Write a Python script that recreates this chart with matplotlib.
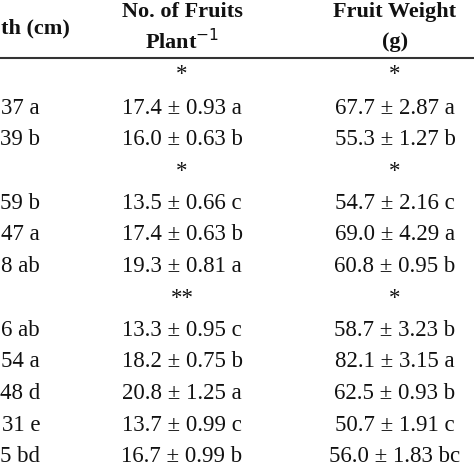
import matplotlib
matplotlib.use("Agg")
import matplotlib.pyplot as plt

header_left = "th (cm)"
header_mid = ["No. of Fruits", "Plant$^{-1}$"]
header_right = ["Fruit Weight", "(g)"]
left_col = ["", "37 a", "39 b", "", "59 b", "47 a", "8 ab", "", "6 ab", "54 a", "48 d", "31 e", "5 bd"]
mid_col = ["*", "17.4 ± 0.93 a", "16.0 ± 0.63 b", "*", "13.5 ± 0.66 c", "17.4 ± 0.63 b", "19.3 ± 0.81 a",
           "**", "13.3 ± 0.95 c", "18.2 ± 0.75 b", "20.8 ± 1.25 a", "13.7 ± 0.99 c", "16.7 ± 0.99 b"]
right_col = ["*", "67.7 ± 2.87 a", "55.3 ± 1.27 b", "*", "54.7 ± 2.16 c", "69.0 ± 4.29 a", "60.8 ± 0.95 b",
             "*", "58.7 ± 3.23 b", "82.1 ± 3.15 a", "62.5 ± 0.93 b", "50.7 ± 1.91 c", "56.0 ± 1.83 bc"]

W = H = 474
fig = plt.figure(figsize=(4.74, 4.74), dpi=100)
fam = ["Liberation Serif", "DejaVu Serif"]
fs = 16.5

def t(x, y, s, **kw):
    kw.setdefault("fontsize", fs)
    fig.text(x / W, 1 - y / H, s, family=fam, va="center", color="#111111", **kw)

t(70, 28, header_left, ha="right", weight="bold", fontsize=16)
t(182, 12, header_mid[0], ha="center", weight="bold", fontsize=16)
t(182, 42, header_mid[1], ha="center", weight="bold", fontsize=16)
t(395, 12, header_right[0], ha="center", weight="bold", fontsize=16)
t(395, 42, header_right[1], ha="center", weight="bold", fontsize=16)
fig.add_artist(plt.Line2D([0, 1], [1 - 58 / H, 1 - 58 / H], color="#333333", lw=1.5))

y0 = 74
step = (457 - 108) / 11
for i, (l, m, r) in enumerate(zip(left_col, mid_col, right_col)):
    y = y0 if i == 0 else 108 + (i - 1) * step
    if l:
        t(40, y, l, ha="right")
    t(182, y, m, ha="center")
    t(395, y, r, ha="center")

fig.savefig("out.png", dpi=100, facecolor="white")
